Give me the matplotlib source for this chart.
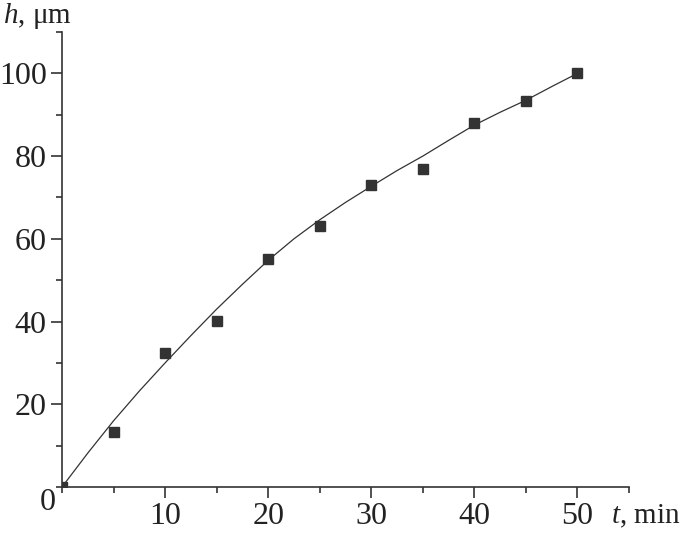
import matplotlib
matplotlib.use("Agg")
import matplotlib.pyplot as plt
from matplotlib.ticker import MultipleLocator, FixedLocator, NullFormatter

plt.rcParams['font.family'] = ['Liberation Serif', 'DejaVu Serif']
plt.rcParams['mathtext.fontset'] = 'custom'
plt.rcParams['mathtext.rm'] = 'Liberation Serif'
plt.rcParams['mathtext.it'] = 'Liberation Serif:italic'

# measured points
t_points = [0, 5, 10, 15, 20, 25, 30, 35, 40, 45, 50]
h_points = [0, 13.3, 32.4, 40.2, 55.2, 63.2, 72.9, 77.0, 88.1, 93.2, 100.2]

# fitted curve
t_curve = [0, 2.5, 5, 7.5, 10, 12.5, 15, 17.5, 20, 22.5, 25, 27.5, 30, 32.5, 35, 37.5, 40, 42.5, 45, 47.5, 50]
h_curve = [0, 8.2, 16.0, 23.2, 30.0, 36.6, 43.0, 49.0, 54.8, 60.0, 64.6, 68.8, 72.7, 76.5, 80.0, 83.8, 87.5, 90.6, 93.5, 96.8, 100.0]

x_major = [10, 20, 30, 40, 50]
y_major = [20, 40, 60, 80, 100]

col = '#333333'
tcol = '#222222'
fs = 23
fs_lab = 21
fig = plt.figure(figsize=(6.85, 5.34), dpi=100)
ax = fig.add_axes([62/685, 47/534, (629-62)/685, (487-32)/534])

ax.plot(t_curve, h_curve, color=col, lw=0.9)
ax.plot(t_points, h_points, ls='none', marker='s', ms=7, color=col)

ax.set_xlim(0, 55)
ax.set_ylim(0, 110)
for s in ['top', 'right']:
    ax.spines[s].set_visible(False)
for s in ['left', 'bottom']:
    ax.spines[s].set_color(col)
    ax.spines[s].set_linewidth(1.2)

ax.xaxis.set_major_locator(FixedLocator(x_major))
ax.yaxis.set_major_locator(FixedLocator(y_major))
ax.xaxis.set_minor_locator(MultipleLocator(5))
ax.yaxis.set_minor_locator(MultipleLocator(10))
ax.xaxis.set_minor_formatter(NullFormatter())
ax.yaxis.set_minor_formatter(NullFormatter())
ax.tick_params(which='major', direction='out', length=8, width=1.2, color=col,
               labelsize=fs, labelcolor=tcol, pad=3)
ax.tick_params(which='minor', direction='out', length=4, width=1.2, color=col)
ax.tick_params(axis='y', pad=3)

fig.text(56/685, 1 - 502/534, '0', fontsize=fs, color=tcol, ha='right', va='center')
fig.text(3/685, 1 - 16/534, r'$h$, μm', fontsize=fs_lab, color=tcol, ha='left', va='center')
fig.text(611/685, 1 - 516/534, r'$t$, min', fontsize=fs_lab, color=tcol, ha='left', va='center')

fig.savefig('out.png', dpi=100)
